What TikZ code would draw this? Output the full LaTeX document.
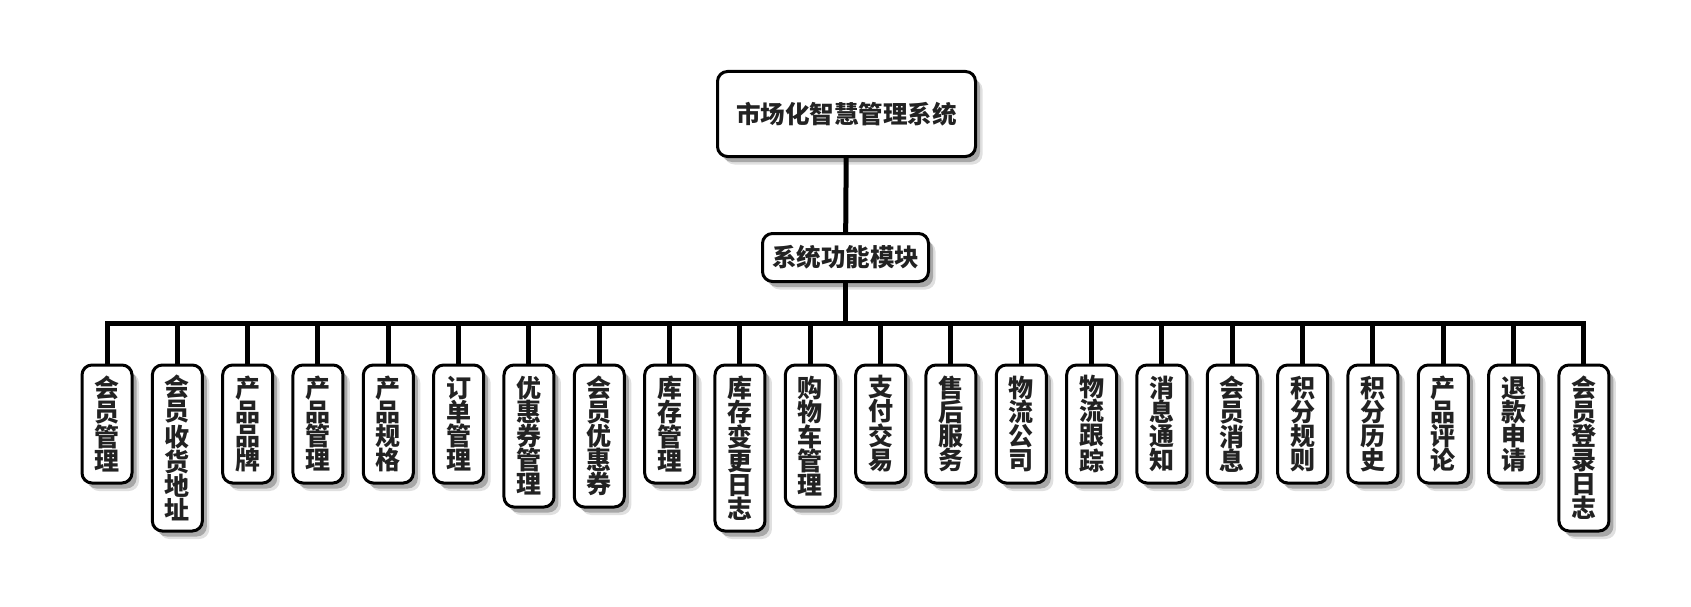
\documentclass[tikz,border=0pt]{standalone}
\usepackage{fontspec}
\newfontfamily\cjk{Noto Sans CJK SC}
\usetikzlibrary{shadows,backgrounds}
\definecolor{txt}{HTML}{222222}
\tikzset{
  box/.style={draw=black, line width=3pt, rounded corners=10pt, fill=white,
    text=txt, font=\cjk\bfseries\fontsize{24.5}{24}\selectfont, inner sep=0pt,
    drop shadow={shadow xshift=7pt, shadow yshift=-8pt, fill=black, opacity=0.12},
    drop shadow={shadow xshift=4.5pt, shadow yshift=-5.5pt, fill=black, opacity=0.25}},
  leaf/.style={box, anchor=north, align=center, minimum width=50pt,
    font=\cjk\bfseries\fontsize{25}{24}\selectfont,
    minimum height=#1*24pt+22pt},
  conn/.style={line width=5pt, draw=black},
}
\begin{document}
\begin{tikzpicture}[x=1pt,y=-1pt]
\useasboundingbox (0,0) rectangle (1691,607);
\node[box, minimum width=258pt, minimum height=85pt] (top) at (846.5,114) {市场化智慧管理系统};
\node[box, minimum width=166pt, minimum height=48pt] (mod) at (845.5,257.5) {系统功能模块};
\coordinate (bus) at (0,323);
\foreach \i/\n/\t in {
  0/4/{会\\员\\管\\理},
  1/6/{会\\员\\收\\货\\地\\址},
  2/4/{产\\品\\品\\牌},
  3/4/{产\\品\\管\\理},
  4/4/{产\\品\\规\\格},
  5/4/{订\\单\\管\\理},
  6/5/{优\\惠\\券\\管\\理},
  7/5/{会\\员\\优\\惠\\券},
  8/4/{库\\存\\管\\理},
  9/6/{库\\存\\变\\更\\日\\志},
  10/5/{购\\物\\车\\管\\理},
  11/4/{支\\付\\交\\易},
  12/4/{售\\后\\服\\务},
  13/4/{物\\流\\公\\司},
  14/4/{物\\流\\跟\\踪},
  15/4/{消\\息\\通\\知},
  16/4/{会\\员\\消\\息},
  17/4/{积\\分\\规\\则},
  18/4/{积\\分\\历\\史},
  19/4/{产\\品\\评\\论},
  20/4/{退\\款\\申\\请},
  21/6/{会\\员\\登\\录\\日\\志}}{
  \node[leaf=\n] (l\i) at ({107+70.33*\i},363.5) {\t};
}
\begin{pgfonlayer}{background}
\draw[conn] (top) -- (mod);
\foreach \i in {0,...,21}{
  \draw[conn] (mod.south) -- (mod.south |- bus) -| (l\i.north);
}
\end{pgfonlayer}
\end{tikzpicture}
\end{document}
